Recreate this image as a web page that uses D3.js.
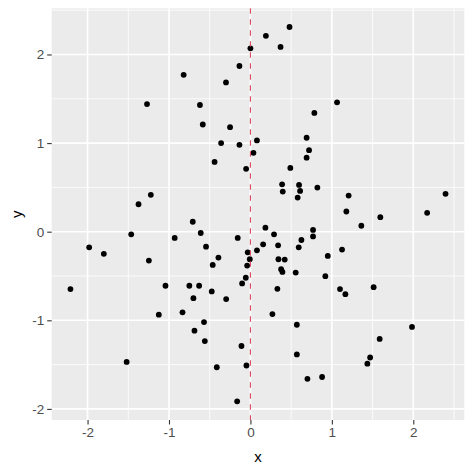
<!DOCTYPE html>
<html>
<head>
<meta charset="utf-8">
<script src="https://cdn.jsdelivr.net/npm/d3@7/dist/d3.min.js"></script>
<style>
  html, body { margin: 0; padding: 0; background: #ffffff; }
  svg { display: block; }
</style>
</head>
<body>
<svg id="chart" width="474" height="474"></svg>
<script>
// ---- data ----
const xValues = [
  -1.27, 0.00, 0.19, 0.48, 0.37, -0.135, -0.82, -0.30, -0.62, -0.585,
  -0.25, -0.36, -0.135, 0.08, 0.037, 0.69, 0.72, 0.69, 1.064, 0.785,
  -1.223, -1.374, -1.464, -0.93, -1.98, -1.80, -1.247, -2.21, -1.043, -0.75,
  -0.44, -0.053, 0.49, 0.389, 0.397, 0.597, 0.61, 0.58, 0.822, -0.708,
  -0.61, 0.184, -0.156, 0.29, 0.769, 0.769, 0.626, -0.545, 0.156, 0.34,
  0.593, 0.08, -0.033, 0.95, -0.393, -0.008, 0.344, 0.421, -0.463, -0.04,
  0.377, 0.393, 0.556, 0.92, -0.057, -0.102, -0.63, -0.475, 0.331, 1.206,
  1.178, 1.595, 1.362, 2.17, 2.396, 1.125, 1.10, 1.513, 1.166, -1.125,
  -0.834, -1.52, -0.70, -0.298, -0.57, -0.687, -0.56, -0.11, 0.27, 0.57,
  0.57, -0.413, -0.049, 0.70, 0.88, -0.163, 1.984, 1.587, 1.47, 1.436
];
const yValues = [
  1.44, 2.07, 2.21, 2.31, 2.085, 1.87, 1.77, 1.685, 1.43, 1.21,
  1.18, 1.00, 0.98, 1.03, 0.89, 1.06, 0.92, 0.835, 1.46, 1.34,
  0.416, 0.31, -0.03, -0.07, -0.176, -0.25, -0.326, -0.648, -0.61, -0.61,
  0.787, 0.71, 0.72, 0.535, 0.453, 0.528, 0.46, 0.385, 0.498, 0.112,
  -0.015, 0.045, -0.07, -0.03, 0.02, -0.053, -0.094, -0.169, -0.143, -0.154,
  -0.176, -0.21, -0.233, -0.274, -0.292, -0.311, -0.311, -0.315, -0.375, -0.382,
  -0.424, -0.454, -0.461, -0.502, -0.52, -0.584, -0.61, -0.674, -0.645, 0.408,
  0.228, 0.164, 0.067, 0.213, 0.427, -0.202, -0.648, -0.626, -0.705, -0.937,
  -0.91, -1.47, -0.75, -0.76, -1.02, -1.117, -1.234, -1.29, -0.93, -1.05,
  -1.385, -1.53, -1.51, -1.66, -1.64, -1.914, -1.075, -1.21, -1.42, -1.49
];
const xTicks = [-2, -1, 0, 1, 2];
const yTicks = [-2, -1, 0, 1, 2];
const xMinor = [-2.5, -1.5, -0.5, 0.5, 1.5, 2.5];
const yMinor = [-1.5, -0.5, 0.5, 1.5, 2.5];
const vlineX = [0];
const xTitle = "x";
const yTitle = "y";

// ---- layout ----
const W = 474, H = 474;
const panel = { left: 51.7, right: 464.3, top: 8.3, bottom: 420 };

function expand(ext) {
  const d = (ext[1] - ext[0]) * 0.05;
  return [ext[0] - d, ext[1] + d];
}
const x = d3.scaleLinear().domain(expand(d3.extent(xValues))).range([panel.left, panel.right]);
const y = d3.scaleLinear().domain(expand(d3.extent(yValues))).range([panel.bottom, panel.top]);

const svg = d3.select("#chart");
const font = "'Liberation Sans', Arial, Helvetica, sans-serif";

// panel background
svg.append("rect")
  .attr("x", panel.left).attr("y", panel.top)
  .attr("width", panel.right - panel.left).attr("height", panel.bottom - panel.top)
  .attr("fill", "#EBEBEB");

const grid = svg.append("g");
const inX = v => { const p = x(v); return p >= panel.left && p <= panel.right; };
const inY = v => { const p = y(v); return p >= panel.top && p <= panel.bottom; };

// minor grid
grid.selectAll(".vminor").data(xMinor.filter(inX)).join("line")
  .attr("x1", d => x(d)).attr("x2", d => x(d))
  .attr("y1", panel.top).attr("y2", panel.bottom)
  .attr("stroke", "#FFFFFF").attr("stroke-width", 0.8);
grid.selectAll(".hminor").data(yMinor.filter(inY)).join("line")
  .attr("y1", d => y(d)).attr("y2", d => y(d))
  .attr("x1", panel.left).attr("x2", panel.right)
  .attr("stroke", "#FFFFFF").attr("stroke-width", 0.8);
// major grid
grid.selectAll(".vmajor").data(xTicks).join("line")
  .attr("x1", d => x(d)).attr("x2", d => x(d))
  .attr("y1", panel.top).attr("y2", panel.bottom)
  .attr("stroke", "#FFFFFF").attr("stroke-width", 1.6);
grid.selectAll(".hmajor").data(yTicks).join("line")
  .attr("y1", d => y(d)).attr("y2", d => y(d))
  .attr("x1", panel.left).attr("x2", panel.right)
  .attr("stroke", "#FFFFFF").attr("stroke-width", 1.6);

// points
const pts = xValues.map((v, i) => ({ x: v, y: yValues[i] }));
svg.append("g").selectAll("circle").data(pts).join("circle")
  .attr("cx", d => x(d.x)).attr("cy", d => y(d.y))
  .attr("r", 2.9).attr("fill", "#000000");

// dashed vertical line
svg.append("g").selectAll("line").data(vlineX).join("line")
  .attr("x1", d => x(d)).attr("x2", d => x(d))
  .attr("y1", panel.top).attr("y2", panel.bottom)
  .attr("stroke", "#D9485F").attr("stroke-width", 1.1)
  .attr("stroke-dasharray", "5.5,5.5");

// axes
const xAxis = d3.axisBottom(x).tickValues(xTicks).tickSize(4.5).tickPadding(3).tickFormat(d3.format("d"));
const gx = svg.append("g").attr("transform", `translate(0,${panel.bottom})`).call(xAxis);
gx.select(".domain").remove();
gx.selectAll(".tick line").attr("stroke", "#333333").attr("stroke-width", 1.1);
gx.selectAll(".tick text").attr("fill", "#4D4D4D").attr("font-family", font).attr("font-size", "13.5px")
  .text(d => d < 0 ? "-" + Math.abs(d) : String(d));

const yAxis = d3.axisLeft(y).tickValues(yTicks).tickSize(4.5).tickPadding(3).tickFormat(d3.format("d"));
const gy = svg.append("g").attr("transform", `translate(${panel.left},0)`).call(yAxis);
gy.select(".domain").remove();
gy.selectAll(".tick line").attr("stroke", "#333333").attr("stroke-width", 1.1);
gy.selectAll(".tick text").attr("fill", "#4D4D4D").attr("font-family", font).attr("font-size", "13.5px")
  .text(d => d < 0 ? "-" + Math.abs(d) : String(d));

// axis titles
svg.append("text")
  .attr("x", (panel.left + panel.right) / 2).attr("y", 462)
  .attr("text-anchor", "middle").attr("font-family", font).attr("font-size", "15px")
  .attr("fill", "#000000").text(xTitle);
svg.append("text")
  .attr("transform", `translate(22,${(panel.top + panel.bottom) / 2}) rotate(-90)`)
  .attr("text-anchor", "middle").attr("font-family", font).attr("font-size", "15px")
  .attr("fill", "#000000").text(yTitle);
</script>
</body>
</html>
